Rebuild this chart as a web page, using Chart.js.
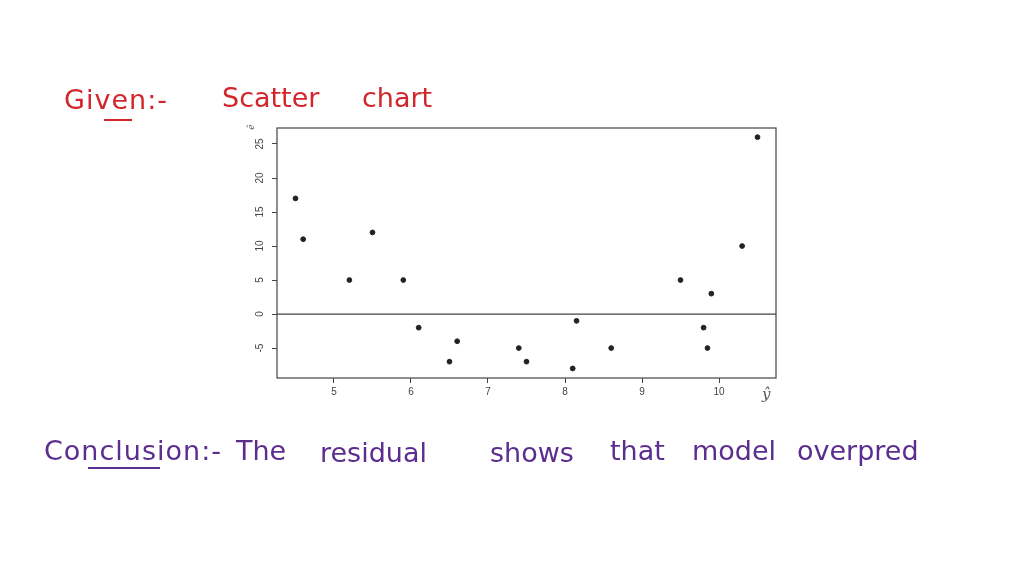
<!DOCTYPE html>
<html>
<head>
<meta charset="utf-8">
<script src="https://cdn.jsdelivr.net/npm/chart.js@4.4.1/dist/chart.umd.min.js"></script>
<style>
  html, body { margin: 0; padding: 0; background: #fff; }
  #wrap { position: relative; width: 1024px; height: 576px; overflow: hidden; }
  #wrap canvas { position: absolute; left: 0; top: 0; }
  .hw { position: absolute; font-family: "DejaVu Sans", sans-serif; font-size: 27px; white-space: nowrap; line-height: 1; }
  .red { color: #d3262c; }
  .purple { color: #5b2d8e; }
  .ul { position: absolute; height: 2px; }
  .axlab { position: absolute; font-family: "DejaVu Serif", serif; font-style: italic; color: #555; }
</style>
</head>
<body>
<div id="wrap">
  <canvas id="resid" width="1024" height="576"></canvas>

  <span class="hw red" style="left:64px; top:86px; letter-spacing:1px;">Given:-</span>
  <div class="ul" style="left:104px; top:119px; width:28px; background:#d3262c;"></div>
  <span class="hw red" style="left:222px; top:84px;">Scatter</span>
  <span class="hw red" style="left:362px; top:84px;">chart</span>

  <span class="hw purple" style="left:44px; top:437px; letter-spacing:1px;">Conclusion:-</span>
  <div class="ul purple" style="left:88px; top:467px; width:72px; background:#5b2d8e;"></div>
  <span class="hw purple" style="left:236px; top:437px;">The</span>
  <span class="hw purple" style="left:320px; top:439px;">residual</span>
  <span class="hw purple" style="left:490px; top:439px;">shows</span>
  <span class="hw purple" style="left:610px; top:437px;">that</span>
  <span class="hw purple" style="left:692px; top:437px;">model</span>
  <span class="hw purple" style="left:797px; top:437px;">overpred</span>

  <span class="axlab" style="left:762px; top:385px; font-size:15px;">ŷ</span>
  <span class="axlab" style="left:248px; top:122px; font-size:9px; transform:rotate(-90deg);">ê</span>
</div>
<script>
// fitted values (x) and residuals (y)
const fitted = [4.5, 4.6, 5.2, 5.5, 5.9, 6.1, 6.5, 6.6, 7.4, 7.5, 8.1, 8.15, 8.6, 9.5, 9.8, 9.85, 9.9, 10.3, 10.5];
const residuals = [17, 11, 5, 12, 5, -2, -7, -4, -5, -7, -8, -1, -5, 5, -2, -5, 3, 10, 26];

const xTicks = [5, 6, 7, 8, 9, 10];
const yTicks = [-5, 0, 5, 10, 15, 20, 25];
const xRange = [4.26, 10.74];
const yRange = [-9.4, 27.35];
const refLine = 0;

const points = fitted.map((x, i) => ({ x: x, y: residuals[i] }));

const boxPlugin = {
  id: 'box',
  afterDatasetsDraw(chart) {
    const { ctx, chartArea: a, scales } = chart;
    ctx.save();
    ctx.strokeStyle = '#444';
    ctx.lineWidth = 1.2;
    ctx.strokeRect(a.left, a.top, a.right - a.left, a.bottom - a.top);
    const y0 = scales.y.getPixelForValue(refLine);
    ctx.beginPath();
    ctx.moveTo(a.left, y0);
    ctx.lineTo(a.right, y0);
    ctx.stroke();
    ctx.restore();
  }
};

new Chart(document.getElementById('resid'), {
  type: 'scatter',
  data: {
    datasets: [{
      label: 'Residuals',
      data: points,
      backgroundColor: '#222',
      borderColor: '#222',
      pointRadius: 2.4,
      pointHoverRadius: 2.4
    }]
  },
  options: {
    responsive: false,
    animation: false,
    layout: { padding: { left: 240, top: 128, right: 248, bottom: 170 } },
    plugins: { legend: { display: false }, tooltip: { enabled: false } },
    scales: {
      x: {
        type: 'linear',
        min: xRange[0],
        max: xRange[1],
        afterBuildTicks: s => { s.ticks = xTicks.map(v => ({ value: v })); },
        afterFit: s => { s.height = 28; },
        grid: { display: true, drawOnChartArea: false, drawTicks: true, tickLength: 5, tickColor: '#444', tickWidth: 1 },
        border: { display: false },
        ticks: { color: '#444', font: { family: 'Liberation Sans', size: 10 }, padding: 3, maxRotation: 0 }
      },
      y: {
        type: 'linear',
        min: yRange[0],
        max: yRange[1],
        afterBuildTicks: s => { s.ticks = yTicks.map(v => ({ value: v })); },
        afterFit: s => { s.width = 37; },
        grid: { display: true, drawOnChartArea: false, drawTicks: true, tickLength: 5, tickColor: '#444', tickWidth: 1 },
        border: { display: false },
        ticks: { color: '#444', font: { family: 'Liberation Sans', size: 10 }, padding: 6, minRotation: 90, maxRotation: 90, crossAlign: 'center' }
      }
    }
  },
  plugins: [boxPlugin]
});
</script>
</body>
</html>
